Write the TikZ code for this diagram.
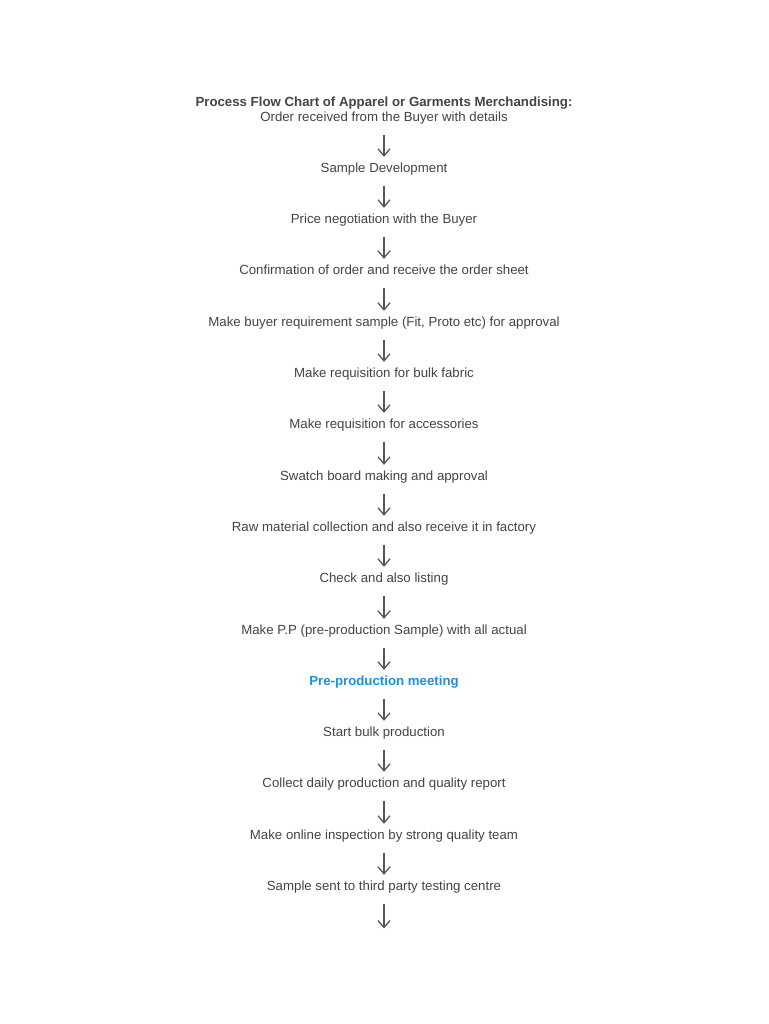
\documentclass[tikz,border=0pt]{standalone}
\usepackage{fontspec}
\setmainfont{Liberation Sans}
\usetikzlibrary{arrows.meta}
\definecolor{txt}{HTML}{444444}
\definecolor{hl}{HTML}{1E8FE1}
\begin{document}
\begin{tikzpicture}[x=1pt,y=-1pt,
  lbl/.style={inner sep=0pt,text height=10pt,text depth=3pt,anchor=base,font=\fontsize{13.25pt}{15pt}\selectfont,text=txt},
  arr/.style={draw=txt!90,line width=1.3pt,-{Straight Barb[length=7pt,width=12pt,line width=1.3pt]},shorten <=10pt,shorten >=5.5pt}]
\useasboundingbox (0,0) rectangle (768,1024);
\fill[white] (0,0) rectangle (768,1024);
\node[lbl,font=\bfseries\fontsize{13.25pt}{15pt}\selectfont] (t) at (384,106.5) {Process Flow Chart of Apparel or Garments Merchandising:};
\node[lbl] (n1) at (384,121.5) {Order received from the Buyer with details};
\node[lbl] (n2) at (384,172.5) {Sample Development};
\node[lbl] (n3) at (384,223.5) {Price negotiation with the Buyer};
\node[lbl] (n4) at (384,274.5) {Confirmation of order and receive the order sheet};
\node[lbl] (n5) at (384,326.5) {Make buyer requirement sample (Fit, Proto etc) for approval};
\node[lbl] (n6) at (384,377.5) {Make requisition for bulk fabric};
\node[lbl] (n7) at (384,428.5) {Make requisition for accessories};
\node[lbl] (n8) at (384,480.5) {Swatch board making and approval};
\node[lbl] (n9) at (384,531.5) {Raw material collection and also receive it in factory};
\node[lbl] (n10) at (384,582.5) {Check and also listing};
\node[lbl] (n11) at (384,634.5) {Make P.P (pre-production Sample) with all actual};
\node[lbl,text=hl,font=\bfseries\fontsize{13.25pt}{15pt}\selectfont] (n12) at (384,685.5) {Pre-production meeting};
\node[lbl] (n13) at (384,736.5) {Start bulk production};
\node[lbl] (n14) at (384,787.5) {Collect daily production and quality report};
\node[lbl] (n15) at (384,839.5) {Make online inspection by strong quality team};
\node[lbl] (n16) at (384,890.5) {Sample sent to third party testing centre};
\coordinate (end) at (384,934);
\foreach \a/\b in {n1/n2,n2/n3,n3/n4,n4/n5,n5/n6,n6/n7,n7/n8,n8/n9,n9/n10,n10/n11,n11/n12,n12/n13,n13/n14,n14/n15,n15/n16}
  \draw[arr] (\a.south) -- (\b.north);
\draw[arr] (n16.south) -- (end);
\end{tikzpicture}
\end{document}
